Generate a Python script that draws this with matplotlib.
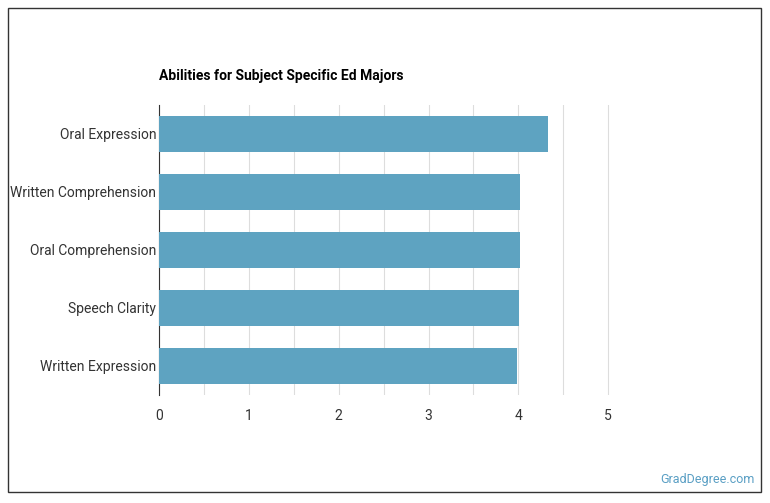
import matplotlib.pyplot as plt
from matplotlib.patches import Rectangle

plt.rcParams['font.family'] = ['Roboto', 'DejaVu Sans']

abilities = ["Oral Expression", "Written Comprehension", "Oral Comprehension",
             "Speech Clarity", "Written Expression"]
scores = [4.33, 4.02, 4.02, 4.01, 3.98]
x_ticks = [0, 1, 2, 3, 4, 5]

BAR_COLOR = "#5ea3c1"
GRID_COLOR = "#dddddd"

fig = plt.figure(figsize=(7.7, 5.03), dpi=100)
ax = fig.add_axes([159 / 770, 1 - 395 / 503, (610 - 159) / 770, 290 / 503])

y = list(range(len(abilities)))
ax.barh(y, scores, height=0.62, color=BAR_COLOR, zorder=3)
ax.set_yticks(y)
ax.set_yticklabels(abilities, fontsize=10, color="#333333")
ax.set_ylim(len(abilities) - 0.5, -0.5)

ax.set_xlim(0, 5.02)
ax.set_xticks(x_ticks)
ax.set_xticklabels([str(v) for v in x_ticks], fontsize=10, color="#333333")
ax.set_xticks([v + 0.5 for v in x_ticks[:-1]], minor=True)
ax.grid(True, axis="x", which="both", color=GRID_COLOR, linewidth=0.8, zorder=0)
ax.tick_params(axis="y", length=0, pad=2)
ax.tick_params(axis="x", which="both", length=0, pad=10)

for side in ["top", "right", "bottom"]:
    ax.spines[side].set_visible(False)
ax.spines["left"].set_color("#333333")

fig.text(159 / 770, 1 - 76 / 503, "Abilities for Subject Specific Ed Majors",
         fontsize=10, fontweight="bold", va="center", ha="left")
fig.text(755 / 770, 1 - 480 / 503, "GradDegree.com", fontsize=9,
         color="#5a9fc4", ha="right", va="center")

fig.patches.append(Rectangle((8 / 770, 1 - 492 / 503), 753 / 770, 484 / 503,
                             transform=fig.transFigure, fill=False,
                             edgecolor="#333333", linewidth=1))

fig.savefig("out.png", dpi=100)
